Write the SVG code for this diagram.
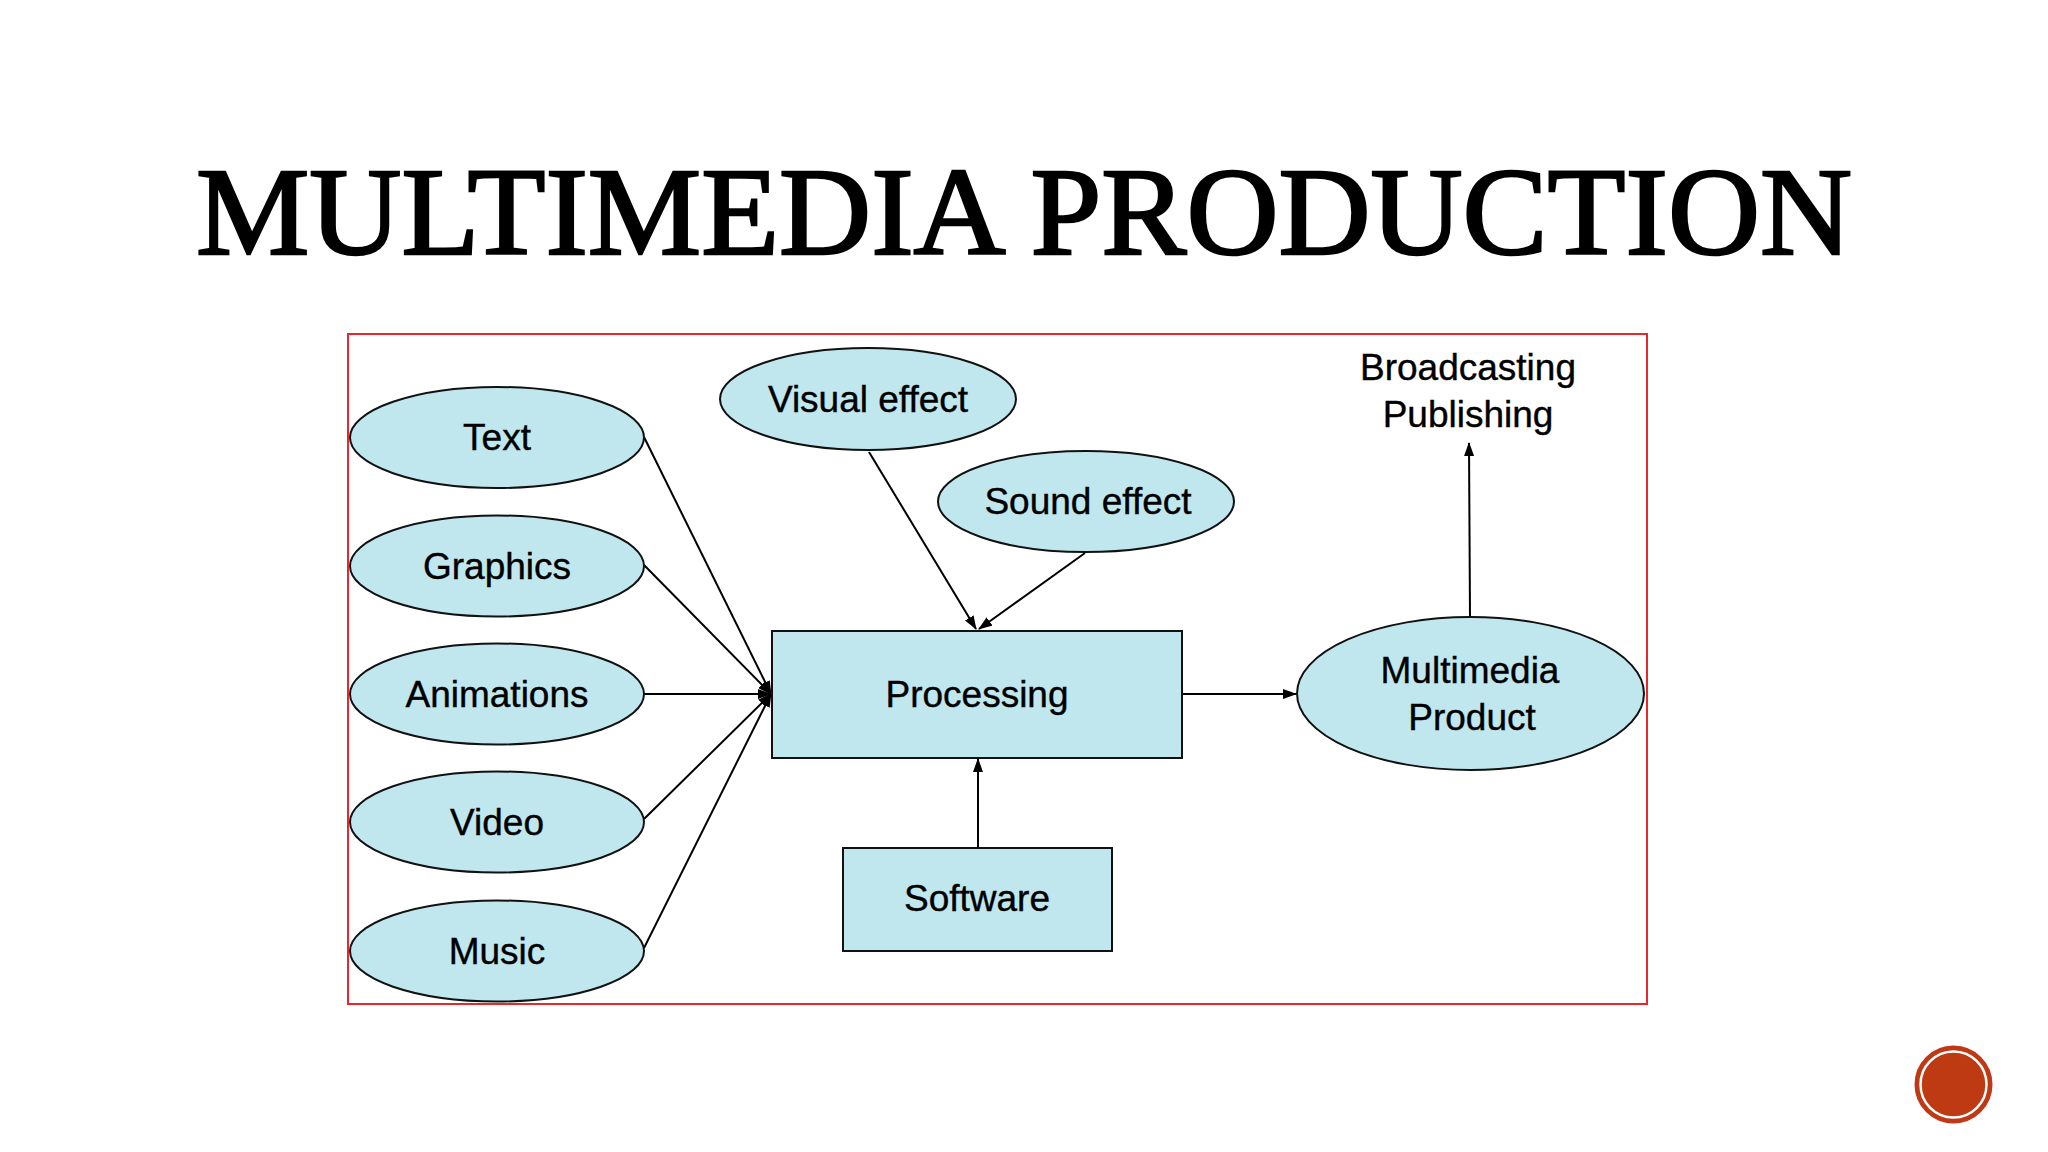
<svg xmlns="http://www.w3.org/2000/svg" width="2048" height="1152" viewBox="0 0 2048 1152">
<defs>
<marker id="arr" markerWidth="14" markerHeight="10" refX="13" refY="5" orient="auto" markerUnits="userSpaceOnUse">
<path d="M0,0 L14,5 L0,10 Z" fill="#000"/>
</marker>
<style>
.node ellipse, .node rect { fill: #c0e7ed; stroke: #111; stroke-width: 2; }
.lbl { font-family: "Liberation Sans", Arial, sans-serif; font-size: 37px; fill: #000; text-anchor: middle; stroke: #000; stroke-width: 0.4; }
.conn line { stroke: #000; stroke-width: 2; marker-end: url(#arr); }
</style>
</defs>
<rect width="2048" height="1152" fill="#fff"/>
<text x="1024" y="254" font-family="'Liberation Serif', 'Times New Roman', serif" font-size="124" text-anchor="middle" textLength="1656" lengthAdjust="spacingAndGlyphs" fill="#000" stroke="#000" stroke-width="2.5">MULTIMEDIA PRODUCTION</text>
<rect x="348" y="334" width="1299" height="670" fill="none" stroke="#e8262b" stroke-width="2"/>
<g class="conn">
<line x1="644" y1="437" x2="771" y2="694"/>
<line x1="644" y1="565" x2="771" y2="694"/>
<line x1="644" y1="694" x2="771" y2="694"/>
<line x1="644" y1="819" x2="771" y2="694"/>
<line x1="644" y1="948" x2="771" y2="694"/>
<line x1="869" y1="452" x2="976" y2="629"/>
<line x1="1085" y1="553" x2="979" y2="629"/>
<line x1="978" y1="848" x2="978" y2="759"/>
<line x1="1182" y1="694" x2="1296" y2="694"/>
<line x1="1470" y1="617" x2="1469" y2="443"/>
</g>
<g id="text" class="node"><ellipse cx="497" cy="437.5" rx="147" ry="50.5"/><text class="lbl" x="497" y="450">Text</text></g>
<g id="graphics" class="node"><ellipse cx="497" cy="566" rx="147" ry="50.5"/><text class="lbl" x="497" y="578.5">Graphics</text></g>
<g id="animations" class="node"><ellipse cx="497" cy="694" rx="147" ry="50.5"/><text class="lbl" x="497" y="706.5">Animations</text></g>
<g id="video" class="node"><ellipse cx="497" cy="822" rx="147" ry="50.5"/><text class="lbl" x="497" y="834.5">Video</text></g>
<g id="music" class="node"><ellipse cx="497" cy="951" rx="147" ry="50.5"/><text class="lbl" x="497" y="963.5">Music</text></g>
<g id="visual-effect" class="node"><ellipse cx="868" cy="399" rx="148" ry="51"/><text class="lbl" x="868" y="411.5">Visual effect</text></g>
<g id="sound-effect" class="node"><ellipse cx="1086" cy="501.5" rx="148" ry="50.5"/><text class="lbl" x="1088" y="514">Sound effect</text></g>
<g id="processing" class="node"><rect x="772" y="631" width="410" height="127"/><text class="lbl" x="977" y="706.5">Processing</text></g>
<g id="software" class="node"><rect x="843" y="848" width="269" height="103"/><text class="lbl" x="977" y="911">Software</text></g>
<g id="multimedia-product" class="node"><ellipse cx="1470.5" cy="693.5" rx="173.5" ry="76.5"/><text class="lbl" x="1470" y="683">Multimedia</text><text class="lbl" x="1472" y="730">Product</text></g>
<g id="broadcasting" class="node"><text class="lbl" x="1468" y="380">Broadcasting</text><text class="lbl" x="1468" y="427">Publishing</text></g>
<g id="nav-button">
<circle cx="1953.5" cy="1084.5" r="38" fill="#bd3a12" stroke="#c4361a" stroke-width="2"/>
<circle cx="1953.5" cy="1084.5" r="33" fill="none" stroke="#fff" stroke-width="2.5"/>
</g>
</svg>
